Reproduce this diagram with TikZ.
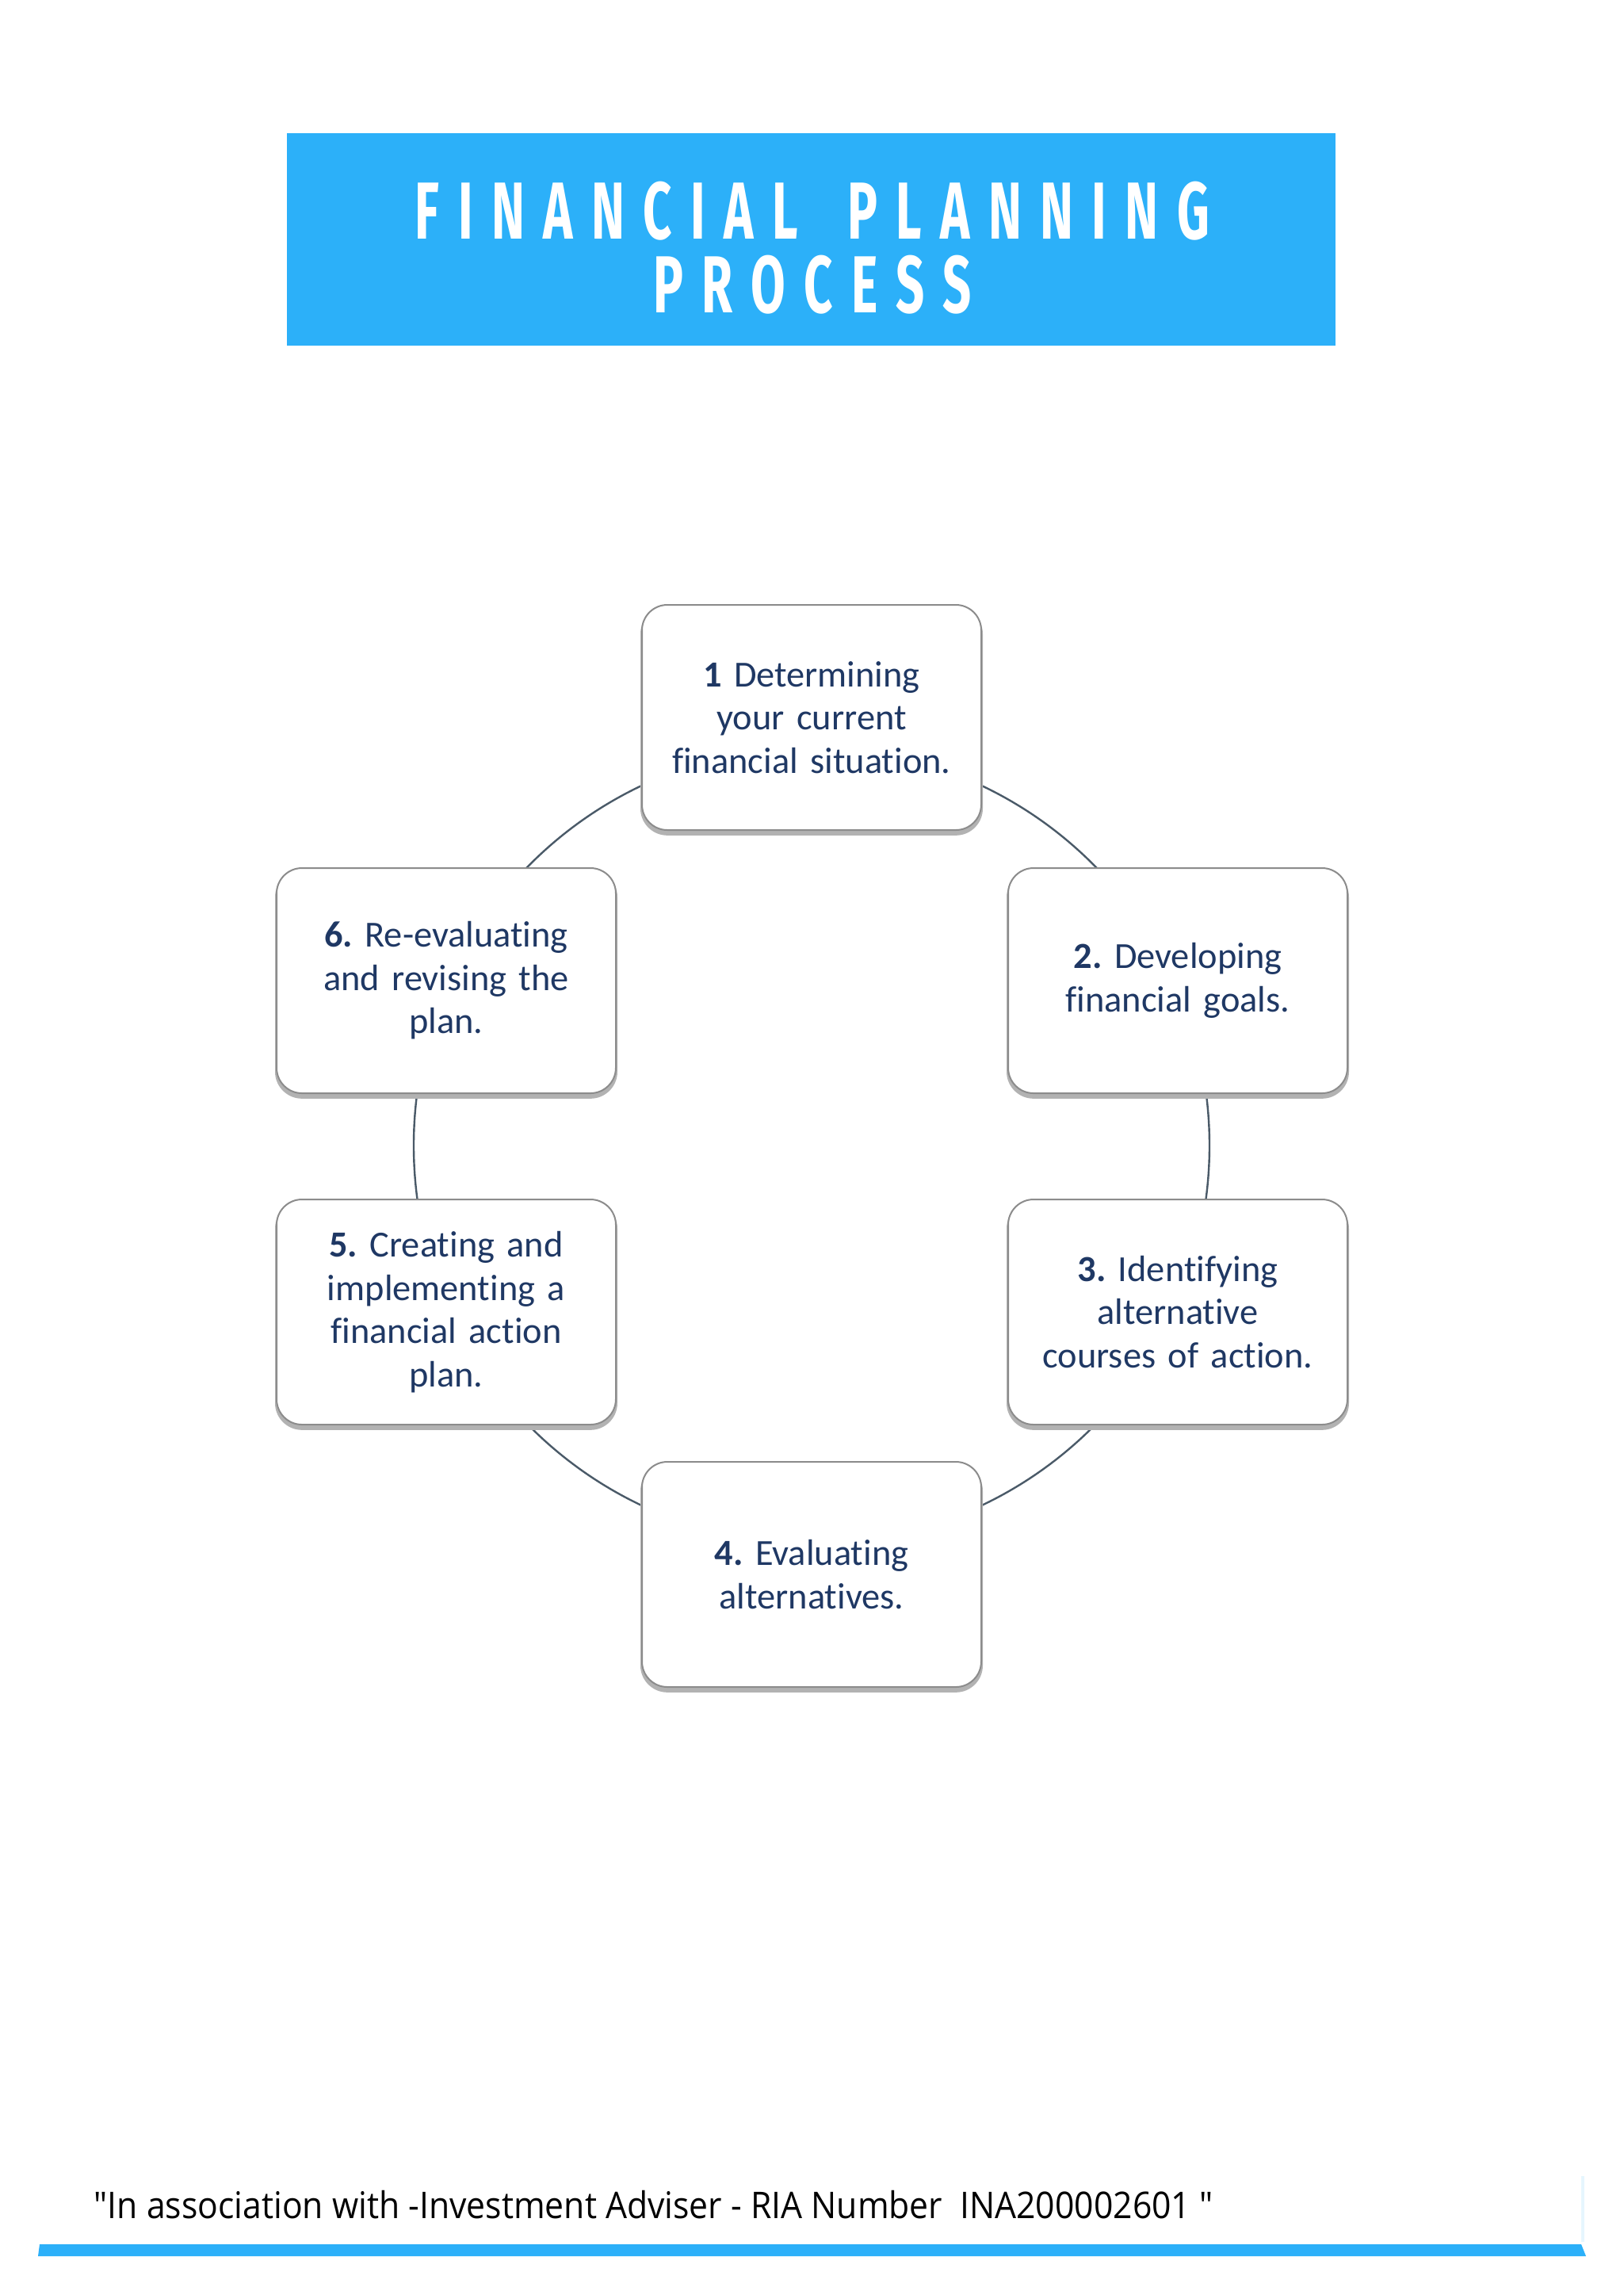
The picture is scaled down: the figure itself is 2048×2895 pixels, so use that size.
\documentclass[tikz,border=0pt]{standalone}
\usepackage{fontspec}
\setmainfont{Carlito}[Ligatures=NoCommon]
\newfontfamily\titlefont{Fira Sans}[FakeStretch=0.62,LetterSpace=23]
\newfontfamily\footfont{Open Sans}[FakeStretch=0.92]
\definecolor{tblue}{HTML}{2CB0F9}
\definecolor{navy}{HTML}{1F3864}
\definecolor{ring}{HTML}{4A5A68}
\frenchspacing
\begin{document}
\begin{tikzpicture}[x=0.25pt,y=-0.25pt,
  stepbox/.style={draw=black!45,line width=0.5pt,fill=white,rounded corners=8pt,
    minimum width=107pt,minimum height=71pt,align=center,text width=100pt,
    font=\fontsize{11.6pt}{13.6pt}\selectfont,text=navy,
    preaction={draw=black!30,fill=black!30,line width=1pt,transform canvas={yshift=-1.2pt}}}]
\tikzset{ttl/.style={anchor=base,inner sep=0,font=\titlefont\bfseries\fontsize{25.5pt}{25pt}\selectfont,text=white}}
\useasboundingbox[fill=white] (0,0) rectangle (2048,2895);
\node[fill=tblue,minimum width=330.75pt,minimum height=67pt,inner sep=0] (title) at (1023.5,302) {};
\node[ttl] (t1) at (1025,301) {FINANCIAL\hspace{6pt} PLANNING};
\node[ttl] (t2) at (1025,394) {PROCESS};
\draw[ring,line width=0.6pt] (1024,1445) circle[radius=502];
\node[stepbox] (s1) at (1024,905) {\textbf{1} Determining\\your current\\financial situation.};
\node[stepbox] (s2) at (1486,1237) {\textbf{2.} Developing\\financial goals.};
\node[stepbox] (s3) at (1486,1655) {\textbf{3.} Identifying\\alternative\\courses of action.};
\node[stepbox] (s4) at (1024,1986) {\textbf{4.} Evaluating\\alternatives.};
\node[stepbox] (s5) at (563,1655) {\textbf{5.} Creating and\\implementing a\\financial action\\plan.};
\node[stepbox] (s6) at (563,1237) {\textbf{6.} Re-evaluating\\and revising the\\plan.};
\node[anchor=west,inner sep=0,font=\footfont\fontsize{11.6pt}{13pt}\selectfont] (foot) at (118,2781)
  {"In association with -Investment Adviser - RIA Number\ \ INA200002601 "};
\fill[tblue] (50,2831) -- (1995,2831) -- (2001,2846) -- (48,2846) -- cycle;
\draw[tblue!12,line width=1pt] (1997,2745) -- (1997,2828);
\end{tikzpicture}
\end{document}
